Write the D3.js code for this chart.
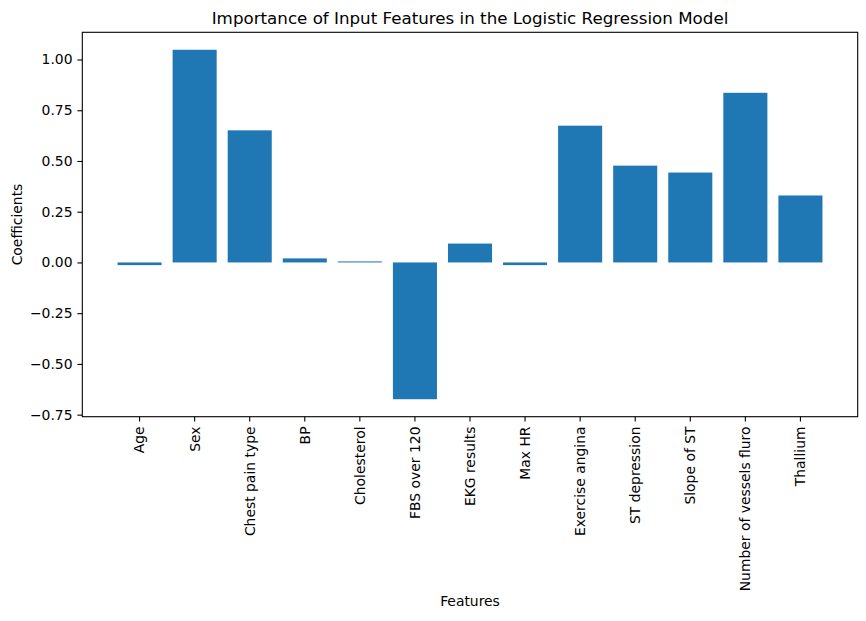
<!DOCTYPE html>
<html>
<head>
<meta charset="utf-8">
<script src="https://cdn.jsdelivr.net/npm/d3@7"></script>
<style>
  body { margin: 0; background: #fff; }
  text { font-family: "DejaVu Sans", sans-serif; fill: #000; }
</style>
</head>
<body>
<script>
// Features and logistic regression coefficients
var features = ["Age", "Sex", "Chest pain type", "BP", "Cholesterol", "FBS over 120",
                "EKG results", "Max HR", "Exercise angina", "ST depression",
                "Slope of ST", "Number of vessels fluro", "Thallium"];
var coefficients = [-0.013, 1.048, 0.651, 0.020, 0.005, -0.674,
                    0.093, -0.013, 0.674, 0.477, 0.443, 0.836, 0.330];
var yTicks = [-0.75, -0.50, -0.25, 0.00, 0.25, 0.50, 0.75, 1.00];

var W = 866, H = 621;
var margin = {top: 32.3, right: 8.3, bottom: 204.3, left: 82.3};
var width = W - margin.left - margin.right,
    height = H - margin.top - margin.bottom;

var svg = d3.select("body").append("svg")
    .attr("width", W)
    .attr("height", H);

var g = svg.append("g")
    .attr("transform", `translate(${margin.left},${margin.top})`);

// bar width 0.8, matplotlib margins of 5%
var x = d3.scaleBand()
    .domain(features)
    .range([0, width])
    .paddingInner(0.2)
    .paddingOuter(0.64);

var lo = d3.min(coefficients), hi = d3.max(coefficients);
var pad = (hi - lo) * 0.05;
var y = d3.scaleLinear()
    .domain([lo - pad, hi + pad])
    .range([height, 0]);

// barres
g.selectAll("rect.bar")
    .data(coefficients)
    .join("rect")
    .attr("class", "bar")
    .attr("x", (d, i) => x(features[i]))
    .attr("width", x.bandwidth())
    .attr("y", d => y(Math.max(0, d)))
    .attr("height", d => Math.abs(y(d) - y(0)))
    .attr("fill", "#1f77b4");

// axes
var xAxis = g.append("g")
    .attr("transform", `translate(0,${height})`)
    .call(d3.axisBottom(x).tickSize(4.9).tickPadding(4.9).tickSizeOuter(0));
xAxis.select(".domain").remove();
xAxis.selectAll("line").attr("stroke", "#000").attr("stroke-width", 1.1);
xAxis.selectAll("text")
    .attr("transform", "rotate(-90)")
    .attr("text-anchor", "end")
    .attr("x", -9.8)
    .attr("y", 0)
    .attr("dy", "0.35em")
    .style("font-size", "13.9px");

var yAxis = g.append("g")
    .call(d3.axisLeft(y).tickValues(yTicks).tickFormat(d3.format(".2f"))
        .tickSize(4.9).tickPadding(4.9).tickSizeOuter(0));
yAxis.select(".domain").remove();
yAxis.selectAll("line").attr("stroke", "#000").attr("stroke-width", 1.1);
yAxis.selectAll("text").style("font-size", "13.9px");

// cadre
g.append("rect")
    .attr("width", width)
    .attr("height", height)
    .attr("fill", "none")
    .attr("stroke", "#000")
    .attr("stroke-width", 1.1);

// titres
svg.append("text")
    .attr("x", margin.left + width / 2)
    .attr("y", 23.5)
    .attr("text-anchor", "middle")
    .style("font-size", "16.7px")
    .text("Importance of Input Features in the Logistic Regression Model");

svg.append("text")
    .attr("x", margin.left + width / 2)
    .attr("y", 606)
    .attr("text-anchor", "middle")
    .style("font-size", "13.9px")
    .text("Features");

svg.append("text")
    .attr("transform", `translate(22,${margin.top + height / 2}) rotate(-90)`)
    .attr("text-anchor", "middle")
    .style("font-size", "13.9px")
    .text("Coefficients");
</script>
</body>
</html>
